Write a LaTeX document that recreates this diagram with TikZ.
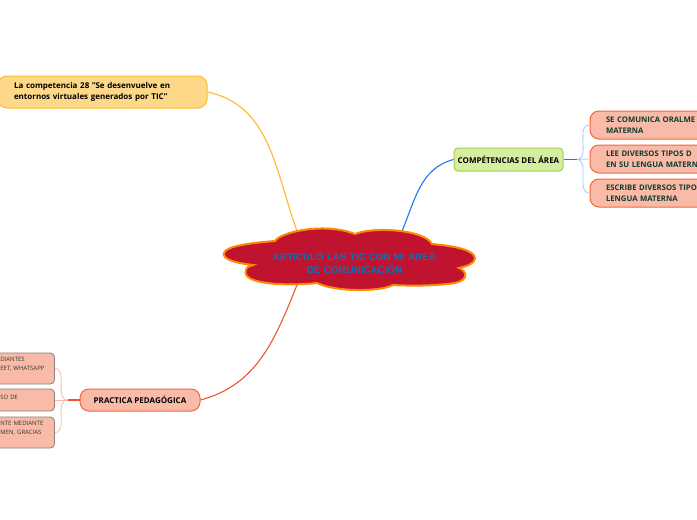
\documentclass[tikz,border=0pt]{standalone}
\usepackage{fontspec}
\setmainfont{Open Sans}
\newfontfamily\titlefont{Liberation Sans}
\usetikzlibrary{positioning}
\definecolor{cloudfill}{HTML}{C0132F}
\definecolor{cloudline}{HTML}{FF8A00}
\definecolor{titleblue}{HTML}{0B6FB8}
\definecolor{yellowfill}{HTML}{FDD888}
\definecolor{yellowline}{HTML}{FBBC2C}
\definecolor{greenfill}{HTML}{D5EE9F}
\definecolor{greenline}{HTML}{A3CC55}
\definecolor{salmonfill}{HTML}{F9BBA8}
\definecolor{salmonline}{HTML}{F0663C}
\definecolor{greyline}{HTML}{8F7F78}
\definecolor{darkgreen}{HTML}{0D3B2E}
\definecolor{blueline}{HTML}{1F74F0}
\definecolor{paleblue}{HTML}{A9C8F0}
\definecolor{redline}{HTML}{F0562A}
\definecolor{palered}{HTML}{F9B9A4}
\tikzset{
	branch/.style={draw, line width=1pt, rounded corners=9pt, font=\bfseries\fontsize{8}{11.5}\selectfont, inner sep=0pt, align=left, text=black},
	rightsub/.style={draw=salmonline, fill=salmonfill, line width=1pt, rounded corners=9pt, font=\bfseries\fontsize{7.7}{11.2}\selectfont, text=darkgreen, text width=148pt, inner xsep=16pt, inner ysep=0pt, minimum height=28pt, align=left},
	leftsub/.style={draw=greyline, fill=salmonfill, line width=.8pt, rounded corners=4pt, font=\fontsize{6}{9}\selectfont, text=black!80, text width=114pt, inner xsep=0pt, inner ysep=0pt, align=left, anchor=west, xshift=-60pt},
}
\begin{document}
\begin{tikzpicture}[x=1pt,y=-1pt]
	\useasboundingbox (0,0) rectangle (697,520);

	\node (lacomp) at (102.5,92) [branch, draw=yellowline, fill=yellowfill, minimum height=32pt, text width=193pt, inner xsep=8pt] {\hspace*{8pt}La competencia 28 "Se desenvuelve en\\\hspace*{8pt}entornos virtuales generados por TIC"};
	\node (comp) at (508.5,159.5) [branch, draw=greenline, fill=greenfill, rounded corners=4pt, minimum width=109pt, minimum height=23pt, align=center] {COMPÉTENCIAS DEL ÁREA};
	\node (prac) at (140,400) [branch, draw=salmonline, fill=salmonfill, minimum width=120pt, minimum height=22pt, align=center] {PRACTICA PEDAGÓGICA};

	\node (oral) at (680,125) [rightsub] {SE COMUNICA ORALME\\MATERNA};
	\node (lee) at (680,159) [rightsub] {LEE DIVERSOS TIPOS D\\EN SU LENGUA MATERN};
	\node (esc) at (680,193) [rightsub] {ESCRIBE DIVERSOS TIPO\\LENGUA MATERNA};

	\node (med) at (0,368.5) [leftsub, minimum height=31pt] {\hspace*{60pt}DIANTES\\\hspace*{60pt}EET, WHATSAPP\\~};
	\node (uso) at (0,400) [leftsub, minimum height=22pt] {\hspace*{60pt}SO DE\\[-3pt]~};
	\node (ment) at (0,432.5) [leftsub, minimum height=31pt] {\hspace*{60pt}NTE MEDIANTE\\\hspace*{60pt}MEN, GRACIAS\\~};

	\coordinate (artn) at (297,231);
	\coordinate (artb) at (402,231);
	\coordinate (arts) at (297,285);
	\coordinate (huba) at ([xshift=13pt]comp.east);
	\coordinate (hubb) at ([xshift=-12pt]prac.west);

	\path [line width=.8pt, out=0, in=180]
	(huba) edge [draw=paleblue] (oral.west)
	(huba) edge [draw=paleblue] (esc.west)
	;
	\draw [paleblue, line width=.8pt] (huba) -- (lee.west);
	\path [line width=.8pt, out=180, in=0]
	(hubb) edge [draw=palered] (med.east)
	(hubb) edge [draw=palered] (ment.east)
	;
	\draw [palered, line width=.8pt] (hubb) -- (uso.east);

	\path [line width=1.1pt]
	(lacomp.east) edge [draw=yellowline, out=-12, in=110] (artn)
	(comp.west) edge [draw=blueline, out=195, in=67] (artb)
	(prac.east) edge [draw=redline, out=15, in=-112] (arts)
	;
	\draw [blueline, line width=1.1pt] (comp.east) -- (huba);
	\draw [redline, line width=1.1pt] (prac.west) -- (hubb);

	% cloud
	\draw [fill=cloudfill, draw=cloudline, line width=2pt]
	(224,253) .. controls (226,246) and (250,243) .. (275,241)
	.. controls (280,232) and (325,222) .. (355,234)
	.. controls (375,226) and (425,230) .. (432,244)
	.. controls (455,246) and (474,250) .. (475,258)
	.. controls (475,263) and (468,266) .. (459,268)
	.. controls (468,272) and (468,280) .. (455,283)
	.. controls (435,286) and (410,286) .. (393,285)
	.. controls (380,292) and (335,292) .. (317,283)
	.. controls (290,286) and (240,285) .. (246,270)
	.. controls (246,267) and (250,266) .. (253,265)
	.. controls (235,263) and (222,259) .. (224,253)
	-- cycle;

	\node (art) at (354.5,263.5) [inner sep=0pt, text width=170pt, align=center, text=titleblue, font=\titlefont\bfseries\fontsize{9.8}{12.5}\selectfont] {ARTICULO LAS TIC CON MI AREA\\DE COMUNICACIÓN};
\end{tikzpicture}
\end{document}
